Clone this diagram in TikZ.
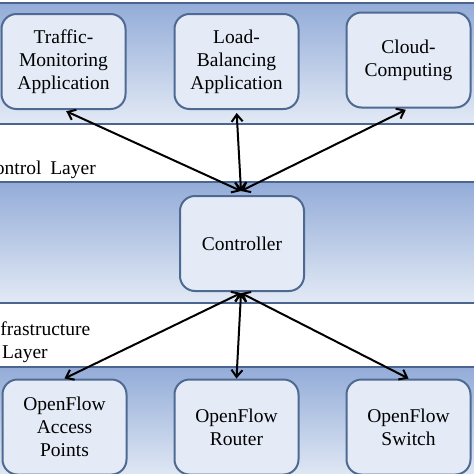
\documentclass[tikz,border=0pt]{standalone}
\usepackage{fontspec}
\setmainfont{Liberation Serif}
\usetikzlibrary{arrows.meta}
\definecolor{bandedge}{HTML}{4A6690}
\definecolor{banddark}{HTML}{93ACD8}
\definecolor{bandlight}{HTML}{E3EAF5}
\definecolor{boxedge}{HTML}{4E6A92}
\definecolor{boxfill}{HTML}{E4EBF6}
\tikzset{
  band/.style={draw=bandedge, line width=1.2pt, top color=banddark, bottom color=bandlight},
  unitbox/.style={draw=boxedge, line width=2pt, fill=boxfill, rounded corners=15pt,
    minimum width=124pt, minimum height=95pt, align=center, inner sep=0pt,
    font=\fontsize{19.5}{23}\selectfont},
  layertext/.style={font=\fontsize{19.5}{23}\selectfont, align=left, inner sep=0pt},
  link/.style={{Straight Barb[length=7pt,width=11pt,line width=2pt]}-{Straight Barb[length=7pt,width=11pt,line width=2pt]},
    line width=2pt}
}
\begin{document}
\begin{tikzpicture}[x=1pt,y=-1pt]
  \useasboundingbox (0,0) rectangle (474,474);
  \clip (0,0) rectangle (474,474);

  % layer bands
  \draw[band] (-5,3) rectangle (479,124);
  \draw[band] (-5,182) rectangle (479,303);
  \draw[band] (-5,367) rectangle (479,480);

  % layer names
  \node[layertext, anchor=east] (ctrlname) at (96,170) {Control\hspace{0.45em}Layer};
  \node[layertext, anchor=north west] (infraname) at (-16,322) {Infrastructure\\\hspace*{18pt}Layer};

  % application layer
  \node[unitbox] (traffic) at (63.5,61.5) {Traffic-\\Monitoring\\Application};
  \node[unitbox] (balance) at (236.5,61.5) {Load-\\Balancing\\Application};
  \node[unitbox] (cloud) at (408.5,60) {Cloud-\\Computing};

  % control layer
  \node[unitbox] (ctrl) at (242,243.5) {Controller};
  \coordinate (ctop) at (241,191);
  \coordinate (cbot) at (241,293);

  % infrastructure layer
  \node[unitbox] (access) at (64.5,427) {OpenFlow\\Access\\Points};
  \node[unitbox] (router) at (236.5,427) {OpenFlow\\Router};
  \node[unitbox] (switch) at (408.5,427) {OpenFlow\\Switch};

  % links
  \foreach \app in {traffic,balance,cloud}
    \draw[link, shorten >=3pt] (ctop) -- (\app.south);
  \foreach \dev in {access,router,switch}
    \draw[link] (cbot) -- (\dev.north);
\end{tikzpicture}
\end{document}
